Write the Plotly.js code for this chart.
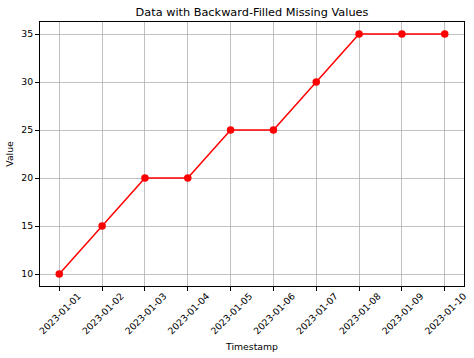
<!DOCTYPE html>
<html><head><meta charset="utf-8">
<script src="https://cdn.plot.ly/plotly-3.0.1.min.js"></script>
<style>html,body{margin:0;padding:0;background:#fff}#c{width:474px;height:358px}</style>
</head><body><div id="c"></div>
<script>
const dates = ["2023-01-01","2023-01-02","2023-01-03","2023-01-04","2023-01-05","2023-01-06","2023-01-07","2023-01-08","2023-01-09","2023-01-10"];
const values = [10,15,20,20,25,25,30,35,35,35];
const yTicks = [10,15,20,25,30,35];
const titleText = "Data with Backward-Filled Missing Values";
const xLabel = "Timestamp";
const yLabel = "Value";

const font = "DejaVu Sans, sans-serif";
Plotly.newPlot("c", [{
  x: dates, y: values, type: "scatter", mode: "lines+markers",
  line: {color: "#ff0000", width: 1.5},
  marker: {color: "#ff0000", size: 7.5}
}], {
  width: 474, height: 358,
  margin: {l: 40, r: 10, t: 22, b: 72},
  paper_bgcolor: "#fff", plot_bgcolor: "#fff",
  font: {family: font, size: 9.3, color: "#000"},
  title: {text: titleText, font: {family: font, size: 11.3, color: "#000"}, x: 0.5, xanchor: "center", xref: "paper", y: 1 - 12/358, yanchor: "middle", yref: "container"},
  showlegend: false,
  xaxis: {
    type: "category", range: [-0.45, 9.45],
    tickangle: -45, ticks: "outside", ticklen: 4, tickcolor: "#000",
    ticklabelshift: 19, ticklabelstandoff: -4,
    showgrid: true, gridcolor: "#b0b0b0", gridwidth: 0.8,
    showline: true, linecolor: "#000", linewidth: 1, mirror: true,
    zeroline: false,
    title: {text: xLabel, font: {family: font, size: 9.3, color: "#000"}, standoff: 8},
    automargin: false
  },
  yaxis: {
    range: [8.75, 36.25], tickvals: yTicks,
    ticks: "outside", ticklen: 4, tickcolor: "#000",
    showgrid: true, gridcolor: "#b0b0b0", gridwidth: 0.8,
    showline: true, linecolor: "#000", linewidth: 1, mirror: true,
    zeroline: false,
    title: {text: yLabel, font: {family: font, size: 9.3, color: "#000"}, standoff: 6},
    automargin: false
  }
}, {staticPlot: true, displayModeBar: false});
</script></body></html>
